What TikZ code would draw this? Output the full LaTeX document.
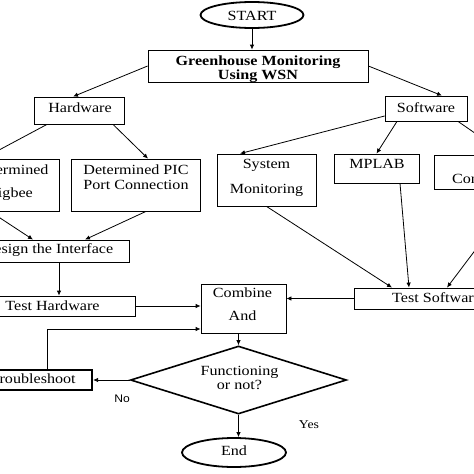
\documentclass[tikz,border=0pt]{standalone}
\usepackage{fontspec}
\setmainfont{Liberation Serif}[FakeStretch=1.15]
\newfontfamily\labsans{Liberation Sans}[FakeStretch=1.1]
\usetikzlibrary{arrows.meta,calc,shapes.geometric}
\begin{document}
\begin{tikzpicture}[x=1pt,y=-1pt,
  box/.style={draw, line width=0.8pt, inner sep=0pt},
  thickbox/.style={draw, line width=2.2pt, inner sep=0pt},
  oval/.style={draw, ellipse, line width=1.8pt, inner sep=0pt},
  txt/.style={font=\fontsize{14}{16}\selectfont, inner sep=0pt, anchor=base},
  arr/.style={-{Latex[length=5pt,width=4.5pt]}, line width=0.8pt},
  ln/.style={line width=0.8pt}]
\fill[white] (0,0) rectangle (474,474);
\path[use as bounding box] (0,0) rectangle (474,474);
\clip (0,0) rectangle (474,474);

% shapes
\node[oval, minimum width=103pt, minimum height=26pt] (start) at (252,15) {};
\node[box, minimum width=220pt, minimum height=32pt] (gh) at (258,66) {};
\node[box, minimum width=90pt, minimum height=27pt] (hw) at (79,110.5) {};
\node[box, minimum width=82pt, minimum height=25pt] (sw) at (426,108.5) {};
\node[box, minimum width=97pt, minimum height=52pt] (zig) at (10.5,185) {};
\node[box, minimum width=129pt, minimum height=52pt] (pic) at (135.5,185) {};
\node[box, minimum width=99pt, minimum height=52pt] (sysm) at (266.5,180) {};
\node[box, minimum width=85pt, minimum height=29pt] (mplab) at (376.5,168.5) {};
\node[box, minimum width=106pt, minimum height=34pt] (con) at (487,172) {};
\node[box, minimum width=162pt, minimum height=22pt] (design) at (48,251) {};
\node[box, minimum width=165pt, minimum height=20pt] (testhw) at (52.5,306) {};
\node[box, minimum width=85pt, minimum height=49pt] (comb) at (243.5,308.5) {};
\node[box, minimum width=166pt, minimum height=21pt] (testsw) at (437,298.5) {};
\node[draw, diamond, line width=1.6pt, inner sep=0pt, minimum width=216pt, minimum height=68pt] (dia) at (238.5,380) {};
\node[thickbox, minimum width=119pt, minimum height=20pt] (trouble) at (32.5,380) {};
\node[oval, minimum width=104pt, minimum height=29pt] (end) at (234,452.5) {};

% texts
\node[txt] (tstart) at (252,20) {START};
\node[txt, font=\fontsize{14}{16}\selectfont\bfseries] (tgh1) at (258,65) {Greenhouse Monitoring};
\node[txt, font=\fontsize{14}{16}\selectfont\bfseries] (tgh2) at (258,79) {Using WSN};
\node[txt] (thw) at (80,112) {Hardware};
\node[txt] (tsw) at (426,112) {Software};
\node[txt] (tzig1) at (10.5,174) {Determined};
\node[txt] (tzig2) at (10.5,197) {Zigbee};
\node[txt] (tpic1) at (136,174) {Determined PIC};
\node[txt] (tpic2) at (136,189) {Port Connection};
\node[txt] (tsys1) at (266.5,168) {System};
\node[txt] (tsys2) at (266.5,193) {Monitoring};
\node[txt] (tmp) at (377,168) {MPLAB};
\node[txt, anchor=base west] (tcon) at (452,183) {Con};
\node[txt] (tdes) at (48,253) {Design the Interface};
\node[txt] (tthw) at (52.5,310) {Test Hardware};
\node[txt, anchor=base west] (ttsw) at (392,302) {Test Software};
\node[txt] (tcomb1) at (242.5,297) {Combine};
\node[txt] (tcomb2) at (242.5,320) {And};
\node[txt] (tfun1) at (239.5,375) {Functioning};
\node[txt] (tfun2) at (239.5,389) {or not?};
\node[txt] (ttro) at (33,383) {Troubleshoot};
\node[txt, font=\fontsize{11}{13}\labsans] (tno) at (122,402) {No};
\node[txt, font=\fontsize{12}{14}\selectfont] (tyes) at (309,428) {Yes};
\node[txt] (tend) at (234,455) {End};

% connectors
\draw[arr] (start.south) -- (start.south |- gh.north);
\draw[arr] (gh.west) -- ($(hw.north)+(-6,0)$);
\draw[arr] (gh.east) -- ($(sw.north)+(16,0)$);
\draw[arr] ($(hw.south)+(-32,0)$) -- ($(zig.north)+(-27.5,0)$);
\draw[arr] ($(hw.south)+(34,0)$) -- ($(pic.north)+(12.5,0)$);
\draw[arr] ($(sw.west)+(0,7.5)$) -- ($(sysm.north)+(-26.5,0)$);
\draw[arr] ($(sw.south)+(-29,0)$) -- (mplab.north);
\draw[arr] ($(sw.south)+(32,0)$) -- ($(con.north)+(19,0)$);
\draw[arr] ($(zig.south)+(-20.5,0)$) -- ($(design.north)+(-15,0)$);
\draw[arr] ($(pic.south)+(10.5,0)$) -- ($(design.north)+(37,0)$);
\draw[arr] ($(design.south)+(11,0)$) -- ($(testhw.north)+(6.5,0)$);
\draw[arr] (testhw.east) -- (testhw.east -| comb.west);
\draw[arr] (sysm.south) -- ($(testsw.north)+(-45,0)$);
\draw[arr] ($(mplab.south)+(23.5,0)$) -- ($(testsw.north)+(-28,0)$);
\draw[arr] ($(con.south)+(34,0)$) -- ($(testsw.north)+(10,0)$);
\draw[arr] (testsw.west) -- (testsw.west -| comb.east);
\draw[arr] (dia.north |- comb.south) -- (dia.north);
\draw[arr] (dia.west) -- (dia.west -| trouble.east);
\draw[arr] ($(trouble.north)+(14.5,0)$) |- ($(comb.west)+(0,20.5)$);
\draw[arr] (dia.south) -- (dia.south |- end.north);
\end{tikzpicture}
\end{document}
